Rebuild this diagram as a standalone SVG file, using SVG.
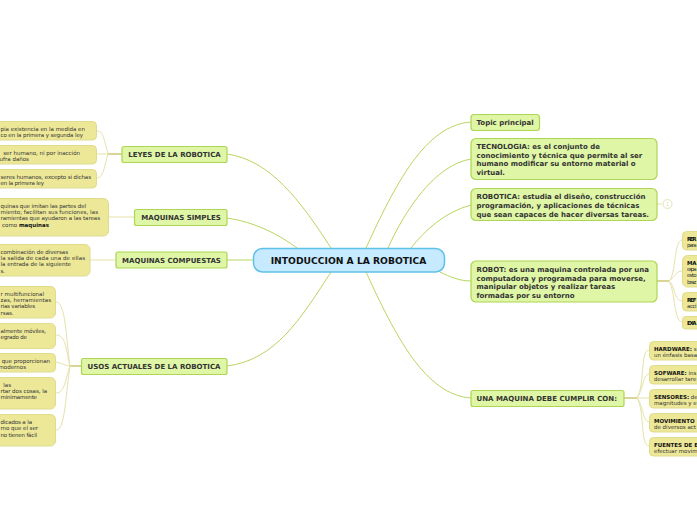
<svg xmlns="http://www.w3.org/2000/svg" width="697" height="520" viewBox="0 0 697 520">
<style>
text{font-family:"DejaVu Sans",Verdana,sans-serif;fill:#333}
.m rect{fill:#dff6a6;stroke:#aed553;stroke-width:1.2}
.s rect{fill:#ece898;stroke:#e0dc8e;stroke-width:1}
.c rect{fill:#c6eaff;stroke:#5fc0e8;stroke-width:1.5}
.m text{font-size:7px;font-weight:bold}
.s text{font-size:5.5px;font-weight:normal}
.s .b{font-weight:bold;fill:#111}
.g{fill:none;stroke:#b8d65e;stroke-width:1}
.y{fill:none;stroke:#e4e2aa;stroke-width:1}
.t{fill:none;stroke:#b5a92c;stroke-width:1}
</style>
<rect width="697" height="520" fill="#fff"/>
<g id="connectors">
<path class="g" d="M331 248C300 200 270 160 227 154"/>
<path class="g" d="M297 248C280 235 255 222 227 218"/>
<path class="g" d="M270 260H227"/>
<path class="g" d="M331 272C300 320 275 360 227 366"/>
<path class="g" d="M366 248C395 185 425 125 471 122"/>
<path class="g" d="M388 248C405 210 435 165 471 159"/>
<path class="g" d="M411 248C425 230 445 212 471 205"/>
<path class="g" d="M440 272C450 277 460 281 471 281"/>
<path class="g" d="M366 272C395 335 425 395 471 398"/>
<path class="y" d="M657 204H662"/>
<path class="t" d="M122 154H108"/><path class="t" d="M81 366H70"/>
<path class="t" d="M657 281H669"/><path class="t" d="M624 398H637"/>
<path class="y" d="M108 154C103 135 103 131 96 131"/>
<path class="y" d="M108 154H96"/>
<path class="y" d="M108 154C103 172 103 178 96 178"/>
<path class="y" d="M135 217H108"/><path class="y" d="M116 260H90"/>
<path class="y" d="M70 366C66 340 66 302 56 302"/>
<path class="y" d="M70 366C66 350 66 335 56 335"/>
<path class="y" d="M70 366C65 366 62 363 56 362"/>
<path class="y" d="M70 366C65 380 65 393 56 393"/>
<path class="y" d="M70 366C65 400 65 430 56 430"/>
<path class="y" d="M669 281C676 275 674 240 682 240"/>
<path class="y" d="M669 281C675 277 676 271 682 271"/>
<path class="y" d="M669 281C675 285 674 301 682 301"/>
<path class="y" d="M669 281C675 290 674 322 682 322"/>
<path class="y" d="M637 398C645 385 640 350 649 350"/>
<path class="y" d="M637 398C643 390 643 374 649 374"/>
<path class="y" d="M637 398H649"/>
<path class="y" d="M637 398C643 405 643 422 649 422"/>
<path class="y" d="M637 398C645 411 640 446 649 446"/>
</g>
<g id="central" class="c"><rect x="253.500" y="248.500" width="191" height="23.500" rx="9"/><text x="348.500" y="264" text-anchor="middle" style="font-size:9.2px;font-weight:bold;fill:#111">INTODUCCION A LA ROBOTICA</text></g>
<g id="leyes" class="m"><rect x="122" y="146.500" width="105" height="16" rx="2"/><text x="174.500" y="157" text-anchor="middle">LEYES DE LA ROBOTICA</text></g>
<g id="simples" class="m"><rect x="134.500" y="209.500" width="92.500" height="16" rx="2"/><text x="181" y="220" text-anchor="middle">MAQUINAS SIMPLES</text></g>
<g id="compuestas" class="m"><rect x="116" y="252" width="111" height="16" rx="2"/><text x="171.500" y="262.500" text-anchor="middle">MAQUINAS COMPUESTAS</text></g>
<g id="usos" class="m"><rect x="81.500" y="358.500" width="145.500" height="16" rx="2"/><text x="154" y="369" text-anchor="middle">USOS ACTUALES DE LA ROBOTICA</text></g>
<g id="topic" class="m"><rect x="471" y="114.500" width="68.500" height="16" rx="3"/><text x="476.500" y="125">Topic principal</text></g>
<g id="tecnologia" class="m"><rect x="471" y="138.500" width="186" height="41" rx="5"/><text x="476.500" y="149">TECNOLOGIA: es el conjunto de</text><text x="476.500" y="158">conocimiento y técnica que permite al ser</text><text x="476.500" y="166">humano modificar su entorno material o</text><text x="476.500" y="175">virtual.</text></g>
<g id="robotica" class="m"><rect x="471" y="188.500" width="186" height="32" rx="5"/><text x="476.500" y="199">ROBOTICA: estudia el diseño, construcción</text><text x="476.500" y="207.500">programación, y aplicaciones de técnicas</text><text x="476.500" y="216.500">que sean capaces de hacer diversas tareas.</text></g>
<g id="note"><circle cx="667.500" cy="204" r="4.500" fill="#fff" stroke="#e4e6b0"/><text x="667.500" y="206" text-anchor="middle" style="font-size:5px;fill:#dde0b0">1</text></g>
<g id="robot" class="m"><rect x="471" y="261" width="186" height="41" rx="5"/><text x="476.500" y="271.500">ROBOT: es una maquina controlada por una</text><text x="476.500" y="280.500">computadora y programada para moverse,</text><text x="476.500" y="288.500">manipular objetos y realizar tareas</text><text x="476.500" y="297.500">formadas por su entorno</text></g>
<g id="cumplir" class="m"><rect x="471" y="390.500" width="153" height="16" rx="2"/><text x="476.500" y="401">UNA MAQUINA DEBE CUMPLIR CON:</text></g>
<g id="l1" class="s"><rect x="-20" y="121.500" width="116.500" height="18.500" rx="4"/><text x=".5" y="130.500" textLength="84.500">pia existencia en la medida en</text><text x=".5" y="136.500" textLength="82.500">co en la primera y segunda ley</text></g>
<g id="l2" class="s"><rect x="-20" y="145.500" width="116.500" height="18.500" rx="4"/><text x="80" y="154.500" text-anchor="end">ser humano, ni por inacción</text><text x="29" y="160.500" text-anchor="end">ufra daños</text></g>
<g id="l3" class="s"><rect x="-20" y="169.500" width="116.500" height="18.500" rx="4"/><text x=".5" y="178.500" textLength="90.500">seres humanos, excepto si dichas</text><text x=".5" y="184.500" textLength="43.500">en la primera ley</text></g>
<g id="s1" class="s"><rect x="-20" y="198.500" width="128.500" height="37.500" rx="5"/><text x=".5" y="207.500" textLength="85.500">quinas que imitan las partes del</text><text x=".5" y="213.500" textLength="97.500">miento; facilitan sus funciones, las</text><text x=".5" y="220" textLength="99.500">ramientas que ayudaron a las tareas</text><text x="2" y="226.500">como <tspan class="b">maquinas</tspan></text></g>
<g id="c1" class="s"><rect x="-20" y="244.500" width="110" height="31.500" rx="5"/><text x=".5" y="253.500" textLength="67.500">combinación de diversas</text><text x=".5" y="259.500" textLength="84.500">la salida de cada una de ellas</text><text x=".5" y="266" textLength="70.500">la entrada de la siguiente</text><text x=".5" y="272.500">s.</text></g>
<g id="u1" class="s"><rect x="-20" y="286.500" width="75.500" height="31.500" rx="5"/><text x=".5" y="295.500" textLength="43.500">r multifuncional</text><text x=".5" y="301.500" textLength="50.500">zas, herramientas</text><text x=".5" y="308" textLength="34.500">rias variables</text><text x=".5" y="314.500">rsas.</text></g>
<g id="u2" class="s"><rect x="-20" y="323.500" width="75.500" height="25" rx="5"/><text x=".5" y="332.500" textLength="45.500">almente móviles,</text><text x=".5" y="338.500" textLength="26.500">egrado de</text></g>
<g id="u3" class="s"><rect x="-20" y="353.500" width="75.500" height="18.500" rx="4"/><text x="50" y="362.500" text-anchor="end">que proporcionan</text><text x="26" y="368.500" text-anchor="end">modernos</text></g>
<g id="u4" class="s"><rect x="-20" y="377.500" width="75.500" height="31.500" rx="5"/><text x="11" y="386.500" text-anchor="end">las</text><text x=".5" y="392.500" textLength="46.500">rtar dos cosas, la</text><text x=".5" y="399" textLength="36.500">minimamente</text></g>
<g id="u5" class="s"><rect x="-20" y="414.500" width="75.500" height="31.500" rx="5"/><text x=".5" y="423.500" textLength="31.500">dicados a la</text><text x=".5" y="430" textLength="37.500">rno que el ser</text><text x=".5" y="436.500" textLength="36.500">no tienen fácil</text></g>
<g id="r1" class="s"><rect x="682.500" y="231.500" width="40" height="18.500" rx="4"/><text x="687" y="240.500" class="b" textLength="9.500">RER</text><text x="687" y="246.500" textLength="9.500">para</text></g>
<g id="r2" class="s"><rect x="682.500" y="255.500" width="40" height="31.500" rx="5"/><text x="687" y="264.500" class="b" textLength="9.500">MA</text><text x="687" y="270.500" textLength="9.500">espa</text><text x="687" y="277" textLength="9.500">esto</text><text x="687" y="283.500" textLength="9.500">braz</text></g>
<g id="r3" class="s"><rect x="682.500" y="292.500" width="40" height="18.500" rx="4"/><text x="687" y="301.500" class="b" textLength="9.500">REF</text><text x="687" y="307.500" textLength="9.500">acci</text></g>
<g id="r4" class="s"><rect x="682.500" y="316.500" width="40" height="12.500" rx="3"/><text x="687" y="325" class="b" textLength="9.500">EXA</text></g>
<g id="h1" class="s"><rect x="649.500" y="341.500" width="70" height="18.500" rx="4"/><text x="654" y="350.500"><tspan class="b">HARDWARE:</tspan> s</text><text x="654" y="356.500">un énfasis basa</text></g>
<g id="h2" class="s"><rect x="649.500" y="365.500" width="70" height="18.500" rx="4"/><text x="654" y="374.500"><tspan class="b">SOFWARE:</tspan> ins</text><text x="654" y="380.500">desarrollar tare</text></g>
<g id="h3" class="s"><rect x="649.500" y="389.500" width="70" height="18.500" rx="4"/><text x="654" y="398.500"><tspan class="b">SENSORES:</tspan> de</text><text x="654" y="404.500">magnitudes y e</text></g>
<g id="h4" class="s"><rect x="649.500" y="413.500" width="70" height="18.500" rx="4"/><text x="654" y="422.500" class="b">MOVIMIENTO</text><text x="654" y="428.500">de diversos act</text></g>
<g id="h5" class="s"><rect x="649.500" y="437.500" width="70" height="18.500" rx="4"/><text x="654" y="446.500" class="b">FUENTES DE E</text><text x="654" y="452.500">efectuar movim</text></g>
</svg>
